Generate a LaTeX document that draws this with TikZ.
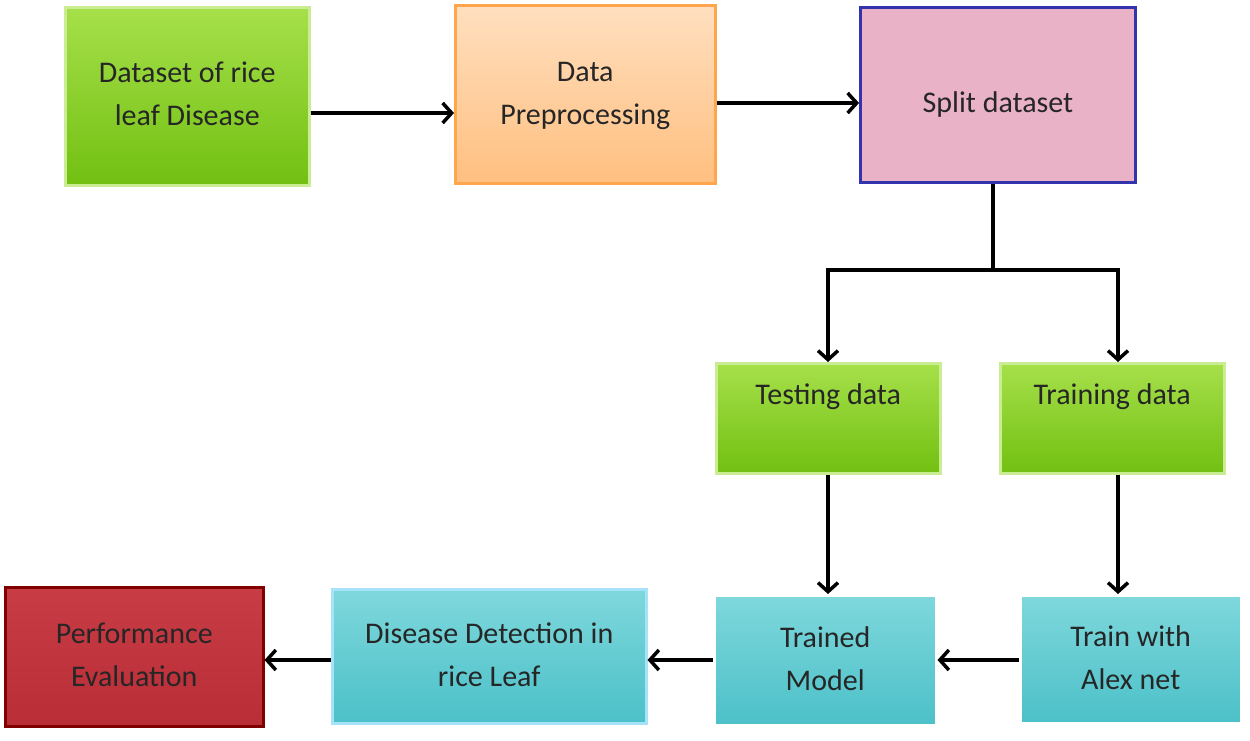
\documentclass[tikz,border=0pt]{standalone}
\usepackage{fontspec}
\setmainfont{Carlito}
\usetikzlibrary{arrows.meta}
\definecolor{gtop}{HTML}{A6E04A}
\definecolor{gbot}{HTML}{72C012}
\definecolor{ctop}{HTML}{7ED8DC}
\definecolor{cbot}{HTML}{4CC0C8}
\begin{document}
\begin{tikzpicture}[x=1pt,y=-1pt,
  box/.style={draw, line width=2.5pt, inner sep=0pt, align=center, font=\fontsize{30}{43}\selectfont, text=black!85},
  green/.style={box, draw=gtop!60!white, top color=gtop, bottom color=gbot},
  cyan/.style={box, draw=white, top color=ctop, bottom color=cbot},
  arr/.style={line width=3.5pt, -{Straight Barb[length=9pt,width=20pt,line width=3.5pt]}}]
\useasboundingbox[fill=white] (0,0) rectangle (1250,740);
\node[green, minimum width=244pt, minimum height=178pt, anchor=north west] (ds) at (64,6) {\raisebox{38pt}{\begin{tabular}{c}Dataset of rice\\leaf Disease\end{tabular}}};
\node[box, draw=orange!70!white, top color=orange!25!white, bottom color=orange!50!white, minimum width=260pt, minimum height=178pt, anchor=north west] (dp) at (454,4) {\raisebox{33pt}{\begin{tabular}{c}Data\\Preprocessing\end{tabular}}};
\node[box, draw=blue!60!black!80, line width=3pt, fill={rgb,255:red,233;green,178;blue,198}, minimum width=275pt, minimum height=175pt, anchor=north west] (sp) at (859,6) {\raisebox{-40pt}{Split dataset}};
\node[green, minimum width=224pt, minimum height=110pt, anchor=north west] (te) at (715,362) {\raisebox{48pt}{Testing data}};
\node[green, minimum width=224pt, minimum height=110pt, anchor=north west] (tr) at (999,362) {\raisebox{48pt}{Training data}};
\node[cyan, minimum width=222pt, minimum height=130pt, anchor=north west] (tm) at (713,594) {\raisebox{20pt}{\begin{tabular}{c}Trained\\Model\end{tabular}}};
\node[cyan, minimum width=221pt, minimum height=128pt, anchor=north west] (ta) at (1019,594) {\raisebox{18pt}{\begin{tabular}{c}Train with\\Alex net\end{tabular}}};
\node[cyan, draw=cyan!35!white, minimum width=314pt, minimum height=134pt, anchor=north west] (dd) at (331,588) {\raisebox{34pt}{\begin{tabular}{c}Disease Detection in\\rice Leaf\end{tabular}}};
\node[box, draw=red!50!black, top color={rgb,255:red,200;green,60;blue,70}, bottom color={rgb,255:red,185;green,45;blue,55}, minimum width=258pt, minimum height=139pt, anchor=north west] (pe) at (4,586) {\raisebox{28pt}{\begin{tabular}{c}Performance\\Evaluation\end{tabular}}};
\coordinate (j) at (993,270);
\draw[arr] (ds.east|-0,113) -- (dp.west|-0,113);
\draw[arr] (dp.east|-0,103) -- (sp.west|-0,103);
\draw[line width=3.5pt] (sp.south-|j) -- (j);
\draw[arr] (j) -- (828,270) -- (828,362);
\draw[arr] (j) -- (1118,270) -- (1118,362);
\draw[arr] (te.south-|828,0) -- (tm.north-|828,0);
\draw[arr] (tr.south-|1118,0) -- (ta.north-|1118,0);
\draw[arr] (ta.west|-0,660) -- (tm.east|-0,660);
\draw[arr] (tm.west|-0,660) -- (dd.east|-0,660);
\draw[arr] (dd.west|-0,660) -- (pe.east|-0,660);
\end{tikzpicture}
\end{document}
